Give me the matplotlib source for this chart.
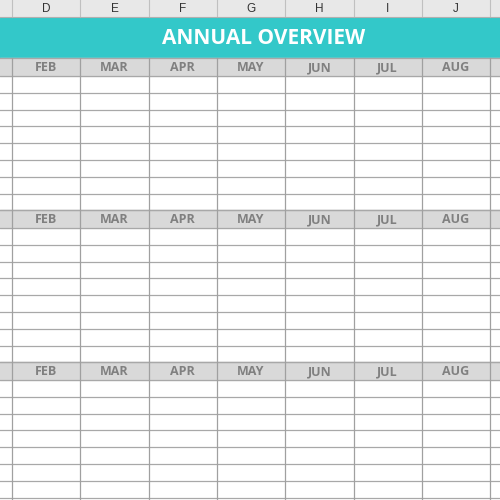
import matplotlib
matplotlib.use("Agg")
import matplotlib.pyplot as plt
from matplotlib.patches import Rectangle

col_letters = ["D", "E", "F", "G", "H", "I", "J"]
months = ["FEB", "MAR", "APR", "MAY", "JUN", "JUL", "AUG"]
title = "ANNUAL OVERVIEW"
section_tops = [58, 210, 362]
rows_per_section = 8

fig = plt.figure(figsize=(5, 5), dpi=100)
ax = fig.add_axes([0, 0, 1, 1])
ax.set_xlim(0, 500); ax.set_ylim(500, 0); ax.axis("off")

xs = [12 + 68.3 * i for i in range(len(col_letters) + 1)]
# column header bar
ax.add_patch(Rectangle((0, 0), 500, 17, color="#e8e8e8"))
for x in xs:
    ax.plot([x, x], [0, 17], color="#c0c0c0", lw=0.8)
for i, c in enumerate(col_letters):
    ax.text((xs[i] + xs[i + 1]) / 2, 9, c, ha="center", va="center", fontsize=8.5, color="#333333", family="Liberation Sans")
ax.plot([0, 500], [17, 17], color="#b0b0b0", lw=0.8)
# banner
ax.add_patch(Rectangle((0, 18), 500, 39, color="#33c8c9"))
ax.text(264, 38, title, ha="center", va="center", fontsize=15, color="white", fontweight="bold", family="Open Sans")

row_h = 16.8
for top in section_tops:
    hh = 18
    ax.add_patch(Rectangle((0, top), 500, hh, color="#d9d9d9"))
    for i, m in enumerate(months):
        ax.text((xs[i] + xs[i + 1]) / 2, top + hh / 2 + 0.5, m, ha="center", va="center",
                fontsize=9, color="#808080", fontweight="bold", family="Open Sans")
    ys = [top, top + hh] + [top + hh + row_h * k for k in range(1, rows_per_section + 1)]
    for y in ys:
        if y <= 500:
            ax.plot([0, 500], [y, y], color="#a8a8a8", lw=0.9)
for x in xs:
    ax.plot([x, x], [58, 500], color="#a0a0a0", lw=0.9)

fig.savefig("out.png", dpi=100)
